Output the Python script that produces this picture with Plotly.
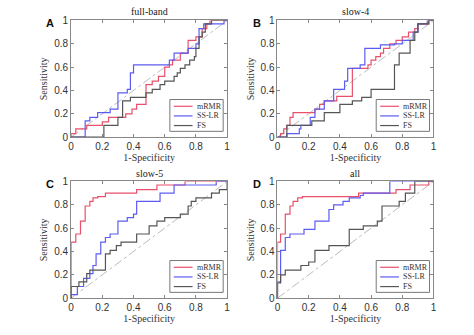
import plotly.graph_objects as go

# ---------------- data (corner points of ROC step curves: x = 1-Specificity, y = Sensitivity) ----------------
titles = ["full-band", "slow-4", "slow-5", "all"]
letters = ["A", "B", "C", "D"]
series_names = ["mRMR", "SS-LR", "FS"]
tick_vals = [0, 0.2, 0.4, 0.6, 0.8, 1]
tick_text = ["0", "0.2", "0.4", "0.6", "0.8", "1"]

# Panel A: full-band
a_mrmr_x = [0, 0, 0.03, 0.10, 0.20, 0.24, 0.35, 0.39, 0.42, 0.48, 0.52, 0.56, 0.60, 0.63, 0.65, 0.70, 0.75, 0.80, 0.84, 0.87, 0.89, 1]
a_mrmr_y = [0, 0.03, 0.07, 0.10, 0.13, 0.17, 0.20, 0.24, 0.28, 0.45, 0.48, 0.52, 0.60, 0.62, 0.66, 0.72, 0.83, 0.86, 0.93, 0.97, 1.0, 1.0]
a_sslr_x = [0, 0.09, 0.12, 0.17, 0.25, 0.30, 0.36, 0.38, 0.40, 0.63, 0.66, 0.75, 0.80, 0.82, 0.85, 0.98, 1]
a_sslr_y = [0, 0.14, 0.17, 0.21, 0.24, 0.38, 0.41, 0.55, 0.62, 0.66, 0.72, 0.76, 0.80, 0.93, 0.97, 1.0, 1.0]
a_fs_x = [0, 0.21, 0.30, 0.33, 0.38, 0.48, 0.52, 0.57, 0.60, 0.66, 0.68, 0.70, 0.73, 0.76, 0.79, 0.80, 0.82, 0.84, 0.86, 0.90, 1]
a_fs_y = [0, 0.10, 0.17, 0.31, 0.34, 0.38, 0.41, 0.45, 0.48, 0.52, 0.55, 0.59, 0.62, 0.66, 0.69, 0.76, 0.86, 0.90, 0.97, 1.0, 1.0]

# Panel B: slow-4
b_mrmr_x = [0, 0.02, 0.04, 0.06, 0.08, 0.10, 0.24, 0.27, 0.30, 0.38, 0.48, 0.58, 0.60, 0.63, 0.66, 0.68, 0.72, 0.76, 0.80, 0.84, 0.88, 0.90, 0.97, 1]
b_mrmr_y = [0, 0.03, 0.07, 0.10, 0.17, 0.21, 0.24, 0.28, 0.31, 0.35, 0.59, 0.62, 0.66, 0.69, 0.72, 0.76, 0.80, 0.83, 0.86, 0.90, 0.93, 0.97, 1.0, 1.0]
b_sslr_x = [0, 0.06, 0.14, 0.15, 0.21, 0.24, 0.30, 0.36, 0.43, 0.45, 0.53, 0.56, 0.66, 0.75, 0.80, 0.87, 0.90, 0.96, 1]
b_sslr_y = [0, 0.03, 0.07, 0.10, 0.17, 0.24, 0.31, 0.41, 0.48, 0.59, 0.62, 0.76, 0.79, 0.80, 0.83, 0.90, 0.97, 1.0, 1.0]
b_fs_x = [0, 0.06, 0.22, 0.30, 0.40, 0.48, 0.54, 0.60, 0.75, 0.78, 0.85, 0.88, 0.90, 0.97, 1]
b_fs_y = [0, 0.10, 0.14, 0.21, 0.28, 0.31, 0.34, 0.41, 0.62, 0.72, 0.83, 0.90, 0.97, 1.0, 1.0]

# Panel C: slow-5
c_mrmr_x = [0, 0, 0.03, 0.06, 0.09, 0.12, 0.14, 0.17, 0.22, 0.42, 0.55, 0.73, 1]
c_mrmr_y = [0, 0.48, 0.55, 0.66, 0.79, 0.83, 0.86, 0.87, 0.90, 0.93, 0.97, 1.0, 1.0]
c_sslr_x = [0, 0, 0.04, 0.08, 0.12, 0.14, 0.16, 0.19, 0.22, 0.25, 0.30, 0.36, 0.40, 0.42, 0.57, 0.66, 0.93, 1]
c_sslr_y = [0, 0.03, 0.10, 0.17, 0.21, 0.28, 0.38, 0.48, 0.52, 0.55, 0.66, 0.69, 0.72, 0.83, 0.90, 0.97, 1.0, 1.0]
c_fs_x = [0, 0, 0.05, 0.10, 0.12, 0.22, 0.25, 0.29, 0.32, 0.42, 0.50, 0.55, 0.60, 0.70, 0.75, 0.77, 0.80, 0.90, 0.95, 1.0]
c_fs_y = [0, 0.10, 0.14, 0.21, 0.24, 0.38, 0.41, 0.45, 0.48, 0.55, 0.62, 0.66, 0.69, 0.72, 0.79, 0.83, 0.86, 0.90, 0.93, 1.0]

# Panel D: all
d_mrmr_x = [0, 0, 0.02, 0.05, 0.08, 0.10, 0.13, 0.16, 0.52, 0.76, 0.85, 0.97, 1]
d_mrmr_y = [0, 0.48, 0.55, 0.72, 0.79, 0.83, 0.86, 0.87, 0.90, 0.93, 0.97, 1.0, 1.0]
d_sslr_x = [0, 0, 0.02, 0.05, 0.08, 0.17, 0.24, 0.33, 0.36, 0.42, 0.46, 0.53, 0.55, 0.72, 1]
d_sslr_y = [0, 0.14, 0.41, 0.52, 0.55, 0.59, 0.66, 0.76, 0.80, 0.83, 0.86, 0.88, 0.90, 1.0, 1.0]
d_fs_x = [0, 0, 0.02, 0.05, 0.15, 0.20, 0.24, 0.33, 0.46, 0.55, 0.64, 0.67, 0.78, 0.82, 0.88, 1]
d_fs_y = [0, 0.13, 0.20, 0.24, 0.28, 0.31, 0.41, 0.45, 0.59, 0.62, 0.66, 0.79, 0.83, 0.90, 1.0, 1.0]

panels = [
    [(a_mrmr_x, a_mrmr_y), (a_sslr_x, a_sslr_y), (a_fs_x, a_fs_y)],
    [(b_mrmr_x, b_mrmr_y), (b_sslr_x, b_sslr_y), (b_fs_x, b_fs_y)],
    [(c_mrmr_x, c_mrmr_y), (c_sslr_x, c_sslr_y), (c_fs_x, c_fs_y)],
    [(d_mrmr_x, d_mrmr_y), (d_sslr_x, d_sslr_y), (d_fs_x, d_fs_y)],
]
diag = [0, 1]

# ---------------- styling ----------------
W, H = 474, 335
colors = ["#e8506c", "#5c5cf2", "#555555"]
SERIF = "Liberation Serif, Times New Roman, serif"
SANS = "Liberation Sans, Arial, sans-serif"

# plot areas in pixels (left, right, top, bottom)
boxes = [(69, 227, 15, 136), (278, 436, 15, 136), (69, 227, 182, 303), (278, 436, 182, 303)]

fig = go.Figure()
layout = dict(width=W, height=H, margin=dict(l=0, r=0, t=0, b=0),
              paper_bgcolor="white", plot_bgcolor="white", showlegend=False)
annotations = []
shapes = []

def px(xp):
    return xp / W

def py(yp):
    return 1 - yp / H

for i, (l, r, t, b) in enumerate(boxes):
    n = i + 1
    xa = "x" if n == 1 else f"x{n}"
    ya = "y" if n == 1 else f"y{n}"
    axis_common = dict(range=[0, 1], tickvals=tick_vals, ticktext=tick_text,
                       ticks="inside", ticklen=3, tickcolor="#888", showline=True,
                       linecolor="#888", linewidth=1, mirror="ticks", showgrid=False,
                       zeroline=False, tickfont=dict(family=SANS, size=10, color="#333"),
                       fixedrange=True)
    layout["xaxis" if n == 1 else f"xaxis{n}"] = dict(
        axis_common, domain=[px(l), px(r)], anchor=ya,
        title=dict(text="1-Specificity", font=dict(family=SERIF, size=10, color="#333"), standoff=2))
    layout["yaxis" if n == 1 else f"yaxis{n}"] = dict(
        axis_common, domain=[py(b), py(t)], anchor=xa,
        title=dict(text="Sensitivity", font=dict(family=SERIF, size=10, color="#333"), standoff=4))
    # diagonal
    fig.add_trace(go.Scatter(x=diag, y=diag, mode="lines", xaxis=xa, yaxis=ya,
                             line=dict(color="#aaaaaa", width=0.8, dash="dashdot"),
                             hoverinfo="skip"))
    for k, (xs, ys) in enumerate(panels[i]):
        fig.add_trace(go.Scatter(x=xs, y=ys, mode="lines", name=series_names[k],
                                 xaxis=xa, yaxis=ya,
                                 line=dict(color=colors[k], width=1.2, shape="hv")))
    # legend box (drawn manually, MATLAB-style compact legend)
    shapes.append(dict(type="rect", xref="paper", yref="paper",
                       x0=px(r - 58), x1=px(r - 4), y0=py(b - 6), y1=py(b - 39),
                       line=dict(color="#777", width=1), fillcolor="white", layer="above"))
    for k, name in enumerate(series_names):
        yy = b - 32 + k * 10
        shapes.append(dict(type="line", xref="paper", yref="paper",
                           x0=px(r - 54), x1=px(r - 35), y0=py(yy), y1=py(yy),
                           line=dict(color=colors[k], width=1.2), layer="above"))
        annotations.append(dict(text=name, x=px(r - 32), y=py(yy), xref="paper", yref="paper",
                                xanchor="left", yanchor="middle", showarrow=False, borderpad=0,
                                font=dict(family=SERIF, size=8, color="#333")))
    # panel title
    annotations.append(dict(text=titles[i], x=px((l + r) / 2), y=py(t - 1), xref="paper", yref="paper",
                            xanchor="center", yanchor="bottom", showarrow=False,
                            font=dict(family=SERIF, size=10, color="#222")))
    # panel letter
    annotations.append(dict(text=f"<b>{letters[i]}</b>", x=px(l - 27), y=py(t - 6), xref="paper", yref="paper",
                            xanchor="left", yanchor="top", showarrow=False,
                            font=dict(family=SANS, size=11, color="#111")))

layout["annotations"] = annotations
layout["shapes"] = shapes
fig.update_layout(**layout)
fig.write_html("out.html")
